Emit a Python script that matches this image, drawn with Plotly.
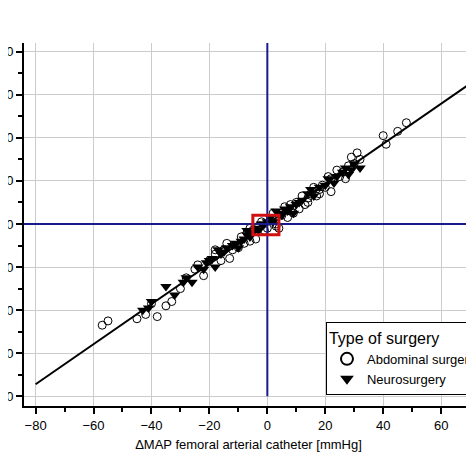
import plotly.graph_objects as go

abd_x = [-57, -55, -45, -40, -42, -38, -35, -30, -28, -25, -22, -20, -18, -16, -15, -13, -12, -10, -9, -8, -7, -6, -5, -4, -3, -2, -1, 0, 1, 2, 3, 4, 5, 6, 7, 8, 9, 10, 11, 12, 13, 14, 15, 16, 17, 18, 19, 20, 21, 22, 24, 25, 26, 28, 29, 30, 31, 32, 40, 41, 45, 48, -18, -14, -6, 8, 14, 22, 27, -33, -24, 3, 18]
abd_y = [-47, -45, -44, -37, -42, -43, -38, -30, -25, -21, -24, -17, -14, -17, -12, -16, -12, -11, -6, -9, -4, -8, -3, -7, -1, 1, -3, -2, 2, 5, -1, -2, 4, 8, 3, 9, 5, 10, 7, 13, 9, 12, 14, 17, 13, 16, 18, 17, 22, 21, 25, 22, 24, 27, 31, 28, 33, 30, 41, 37, 43, 47, -12, -9, -2, 6, 10, 15, 21, -36, -19, 0, 14]
neu_x = [-40, -41, -35, -32, -28, -26, -24, -22, -21, -20, -19, -18, -17, -16, -15, -14, -12, -11, -10, -9, -8, -7, -6, -5, -4, -3, -2, -1, 0, 1, 2, 3, 4, 5, 6, 7, 8, 9, 10, 12, 14, 15, 16, 18, 20, 21, 24, 26, 27, 28, 29, 30, 32, -29, -43, -7, 11, 23]
neu_y = [-36, -39, -29, -33, -25, -27, -20, -21, -18, -17, -16, -20, -12, -14, -13, -11, -10, -9, -11, -8, -7, -5, -6, -4, -2, -3, 0, 0, 1, 3, 1, 6, 5, 4, 7, 6, 8, 5, 9, 11, 14, 16, 13, 17, 18, 21, 22, 24, 26, 23, 25, 28, 26, -27, -40, -3, 10, 19]
line_x = [-80, 75]
line_slope = 0.93

fig = go.Figure()
fig.add_trace(go.Scatter(x=line_x, y=[line_slope * v for v in line_x], mode="lines",
                         line=dict(color="black", width=2), showlegend=False, hoverinfo="skip"))
fig.add_trace(go.Scatter(x=abd_x, y=abd_y, mode="markers", name="Abdominal surgery",
                         marker=dict(symbol="circle-open", size=8, color="black", line=dict(width=1))))
fig.add_trace(go.Scatter(x=neu_x, y=neu_y, mode="markers", name="Neurosurgery",
                         marker=dict(symbol="triangle-down", size=10, color="black")))

fig.add_shape(type="line", x0=0, x1=0, y0=-80, y1=84, line=dict(color="#1a1a8c", width=2))
fig.add_shape(type="line", x0=-84, x1=71, y0=0, y1=0, line=dict(color="#1a1a8c", width=2))
fig.add_shape(type="rect", x0=-5, x1=4, y0=-5, y1=4, line=dict(color="#d01010", width=3))

axis_common = dict(showgrid=True, gridcolor="#cccccc", gridwidth=1, zeroline=False,
                   showline=True, linecolor="black", linewidth=2, ticks="outside",
                   ticklen=6, tickwidth=2, tickcolor="black", automargin=False,
                   minor=dict(dtick=10, ticks="outside", ticklen=4, tickcolor="black", showgrid=False),
                   tickfont=dict(family="Liberation Sans, Arial", size=13, color="black"))
fig.update_xaxes(range=[-84, 71], dtick=20, tick0=0,
                 title=dict(text="ΔMAP femoral arterial catheter [mmHg]", standoff=8,
                            font=dict(family="Liberation Sans, Arial", size=13, color="black")),
                 **axis_common)
fig.update_yaxes(range=[-84.5, 84], dtick=20, tick0=0, **axis_common)

fig.update_layout(width=474, height=474, margin=dict(l=16, r=0, t=35, b=76),
                  plot_bgcolor="white", paper_bgcolor="white",
                  legend=dict(title=dict(text="Type of surgery"), x=1.02, xanchor="right",
                              y=0.03, yanchor="bottom", bgcolor="white",
                              bordercolor="black", borderwidth=1,
                              font=dict(family="Liberation Sans, Arial", size=13, color="black"),
                              itemsizing="constant", tracegroupgap=0))
fig.write_html("out.html")
